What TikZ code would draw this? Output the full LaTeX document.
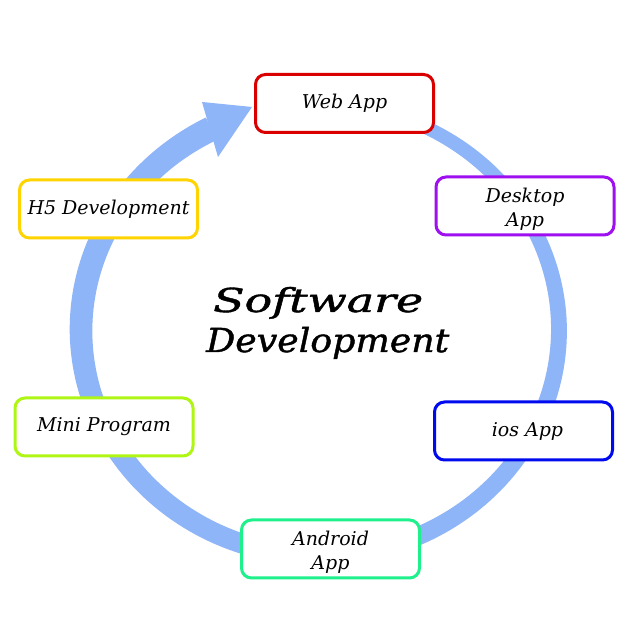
\documentclass[tikz,border=0pt]{standalone}
\usepackage{fontspec}
\usepackage{graphicx}
\setmainfont{DejaVu Serif}
\newfontfamily\titlefont[FakeBold=1.2]{DejaVu Serif}
\definecolor{ringblue}{RGB}{142,181,247}
\definecolor{cweb}{RGB}{218,0,0}
\definecolor{cdesk}{RGB}{158,16,240}
\definecolor{cios}{RGB}{0,10,238}
\definecolor{candroid}{RGB}{30,240,140}
\definecolor{cmini}{RGB}{176,246,20}
\definecolor{ch5}{RGB}{255,212,0}
\newcommand{\twolines}[2]{\raisebox{-4pt}[\height][\depth]{\begin{tabular}{@{}c@{}}#1\\[1pt]#2\end{tabular}}}
\tikzset{
  appbox/.style={draw=#1, line width=3pt, rounded corners=10pt, fill=white, text=black,
    minimum width=178pt, minimum height=58pt, align=center, inner sep=0pt,
    font=\itshape\fontsize{19}{23.5}\selectfont},
  titletext/.style={anchor=base west, inner sep=0pt, font=\titlefont\itshape\fontsize{33}{38}\selectfont}
}
\begin{document}
\begin{tikzpicture}[x=1pt,y=1pt]
\useasboundingbox[fill=white] (0,0) rectangle (640,640);
% ring arrow (tapering)
\fill[ringblue]
  plot[domain=75:-243,samples=200] ({320+(239+(13+(75-(\x))*12/318)/2)*cos(\x)},{310+(226+(13+(75-(\x))*12/318)/2)*sin(\x)})
  -- plot[domain=-243:75,samples=200] ({320+(239-(13+(75-(\x))*12/318)/2)*cos(\x)},{310+(226-(13+(75-(\x))*12/318)/2)*sin(\x)})
  -- cycle;
\fill[ringblue] (202,538) -- (252,533) -- (218,483) -- cycle;
% boxes
\node[appbox=cweb] (web) at (344.5,536.5) {Web App};
\node[appbox=cdesk] (desk) at (525,434) {\twolines{Desktop}{App}};
\node[appbox=cios] (ios) at (523.5,209) {\hspace*{8pt}ios App};
\node[appbox=candroid] (android) at (330.5,91) {\twolines{Android}{App}};
\node[appbox=cmini] (mini) at (104,213) {Mini Program};
\node[appbox=ch5] (h5) at (108.5,431) {H5 Development};
% title
\node[titletext] (t1) at (213,328) {\resizebox{210pt}{\height}{Software}};
\node[titletext] (t2) at (206,288) {\resizebox{243pt}{\height}{Development}};
\end{tikzpicture}
\end{document}
